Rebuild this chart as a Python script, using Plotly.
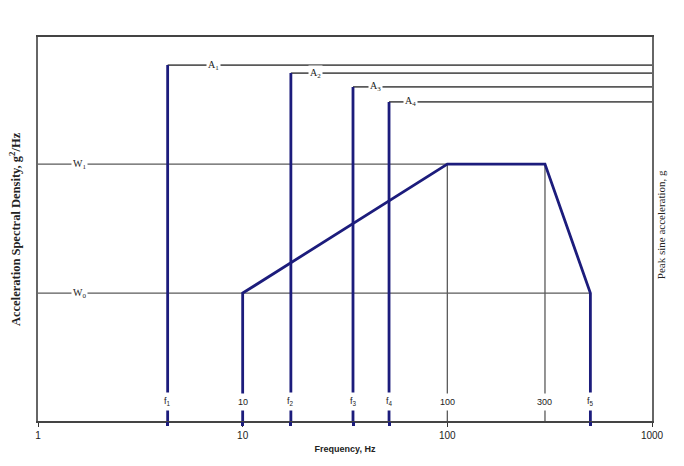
import math
import plotly.graph_objects as go

# frequencies of the sine lines f1..f4 (Hz) and their peak levels (relative)
sine_freqs = [4.3, 17.2, 34.6, 51.9]
sine_levels = [0.927, 0.906, 0.870, 0.831]
sine_names = ["A<sub>1</sub>", "A<sub>2</sub>", "A<sub>3</sub>", "A<sub>4</sub>"]
sine_label_x = [7.2, 22.6, 44.8, 65.7]

# random profile (ASD) breakpoints
w0 = 0.333
w1 = 0.669
asd_freqs = [10, 10, 100, 300, 500, 500]
asd_levels = [0, w0, w1, w1, w0, 0]
level_names = ["W<sub>0</sub>", "W<sub>1</sub>"]
level_values = [w0, w1]
level_ends = [500, 100]
level_label_x = 1.6

# inner tick labels
inner_x = [4.3, 10, 17.2, 34.6, 51.9, 100, 300, 500]
inner_text = ["f<sub>1</sub>", "10", "f<sub>2</sub>", "f<sub>3</sub>", "f<sub>4</sub>", "100", "300", "f<sub>5</sub>"]
grid_x = [100, 300]

axis_ticks = [1, 10, 100, 1000]

navy = "#1c1c7c"
gray = "#5a5a5a"
serif = "Liberation Serif, Times New Roman, serif"
sans = "Liberation Sans, Arial, sans-serif"

fig = go.Figure()

# horizontal level lines
for lv, end in zip(level_values, level_ends):
  fig.add_trace(go.Scatter(x=[1, end], y=[lv, lv], mode="lines",
                           line=dict(color=gray, width=1.3), hoverinfo="skip"))
for f, a in zip(sine_freqs, sine_levels):
  fig.add_trace(go.Scatter(x=[f, 1000], y=[a, a], mode="lines",
                           line=dict(color=gray, width=1.8), hoverinfo="skip"))

# gray verticals at 100 and 300
for g in grid_x:
  fig.add_trace(go.Scatter(x=[g, g], y=[0, w1], mode="lines",
                           line=dict(color=gray, width=1.3), hoverinfo="skip"))

# sine lines
for f, a in zip(sine_freqs, sine_levels):
  fig.add_trace(go.Scatter(x=[f, f], y=[0, a], mode="lines",
                           line=dict(color=navy, width=2.8), hoverinfo="skip"))

# random profile
fig.add_trace(go.Scatter(x=asd_freqs, y=asd_levels, mode="lines",
                         line=dict(color=navy, width=2.8), hoverinfo="skip"))

annotations = []
for x, name, a in zip(sine_label_x, sine_names, sine_levels):
  annotations.append(dict(x=math.log10(x), y=a, text=name, showarrow=False,
                          font=dict(family=serif, size=10, color="#222"),
                          bgcolor="white", borderpad=1))
for name, lv in zip(level_names, level_values):
  annotations.append(dict(x=math.log10(level_label_x), y=lv, text=name, showarrow=False,
                          font=dict(family=serif, size=10, color="#222"),
                          bgcolor="white", borderpad=1))
for x, t in zip(inner_x, inner_text):
  annotations.append(dict(x=math.log10(x), y=0.05, text=t, showarrow=False,
                          font=dict(family=sans, size=9, color="#222"),
                          bgcolor="white", borderpad=3))

annotations.append(dict(xref="paper", yref="paper", x=0, y=0.5, xshift=-23,
                        xanchor="center", yanchor="middle",
                        text="<b>Acceleration Spectral Density, g<sup>2</sup>/Hz</b>",
                        textangle=-90, showarrow=False,
                        font=dict(family=serif, size=12.5, color="#222")))
annotations.append(dict(xref="paper", yref="paper", x=1, y=0.51, xshift=9,
                        xanchor="center", yanchor="middle",
                        text="Peak sine acceleration, g",
                        textangle=-90, showarrow=False,
                        font=dict(family=serif, size=11, color="#222")))

# the page adds an 8px body margin, so the figure is a bit smaller than the window
fig.update_layout(
  width=676, height=458,
  margin=dict(l=30, r=32, t=29, b=45),
  paper_bgcolor="white", plot_bgcolor="white",
  showlegend=False,
  annotations=annotations,
  xaxis=dict(type="log", range=[0, 3], tickvals=axis_ticks,
             ticktext=[str(v) for v in axis_ticks],
             ticks="outside", ticklen=4, tickcolor="#333", tickwidth=1.3,
             showgrid=False, zeroline=False,
             showline=True, linecolor="#444", linewidth=1.5, mirror=True,
             tickfont=dict(family=sans, size=10, color="#222"),
             title=dict(text="<b>Frequency, Hz</b>", standoff=6,
                        font=dict(family=sans, size=9, color="#222"))),
  xaxis2=dict(type="log", range=[0, 3], overlaying="x", side="bottom",
              tickvals=sine_freqs + [10, 500], showticklabels=False,
              ticks="outside", ticklen=4, tickcolor=navy, tickwidth=2.8,
              showgrid=False, zeroline=False, showline=False),
  yaxis=dict(range=[0, 1], showticklabels=False, ticks="",
             showgrid=False, zeroline=False,
             showline=True, linecolor="#666", linewidth=1.5, mirror=True),
)
# invisible trace so the second axis draws its ticks
fig.add_trace(go.Scatter(x=[10], y=[-1], xaxis="x2", mode="markers",
                         marker=dict(opacity=0), hoverinfo="skip"))

fig.write_html("out.html")
